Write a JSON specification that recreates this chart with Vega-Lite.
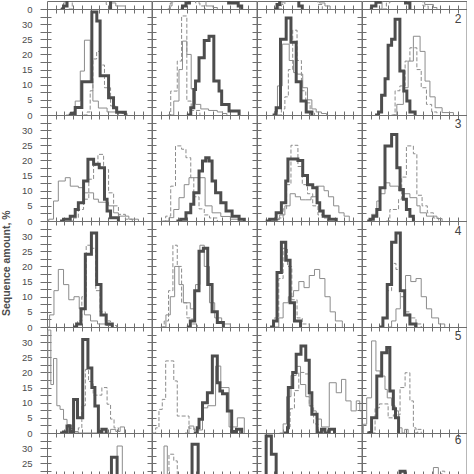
{
"$schema": "https://vega.github.io/schema/vega-lite/v6.json",
"padding": {"left": 2, "top": 0, "right": 0, "bottom": 0},
"background": "white",
"title": {"text": "Sequence amount, %", "orient": "left", "anchor": "middle", "font": "Liberation Sans", "fontSize": 10.5, "fontWeight": "bold", "color": "#4d4d4d", "offset": 8, "dx": -23},
"config": {
"view": {"stroke": "#6e6e6e", "strokeWidth": 1},
"axis": {"domain": false, "grid": false, "tickColor": "#6e6e6e", "tickWidth": 1, "labelFont": "Liberation Sans", "labelFontSize": 9.5, "labelColor": "#4d4d4d", "labelOverlap": false, "labelFlush": false, "labelBound": false, "offset": -4},
"axisX": {"tickSize": 8, "labels": false},
"axisY": {"tickSize": 9, "labels": false},
"line": {"interpolate": "step-after"}
},
"datasets": {"h": [
{"r":1,"c":1,"s":"k","x":1.6,"y":0},{"r":1,"c":1,"s":"k","x":1.9,"y":1},{"r":1,"c":1,"s":"k","x":2.3,"y":10},{"r":1,"c":1,"s":"k","x":7.3,"y":0},
{"r":1,"c":1,"s":"t","x":1.5,"y":0},{"r":1,"c":1,"s":"t","x":1.9,"y":2},{"r":1,"c":1,"s":"t","x":2.3,"y":10},{"r":1,"c":1,"s":"t","x":6.0,"y":4},{"r":1,"c":1,"s":"t","x":7.2,"y":2},{"r":1,"c":1,"s":"t","x":7.9,"y":1},{"r":1,"c":1,"s":"t","x":9.0,"y":0},
{"r":1,"c":1,"s":"d","x":2.5,"y":0},{"r":1,"c":1,"s":"d","x":2.9,"y":3},{"r":1,"c":1,"s":"d","x":6.8,"y":1.5},{"r":1,"c":1,"s":"d","x":7.4,"y":0},
{"r":1,"c":2,"s":"k","x":3.3,"y":0},{"r":1,"c":2,"s":"k","x":3.5,"y":1},{"r":1,"c":2,"s":"k","x":3.9,"y":2},{"r":1,"c":2,"s":"k","x":4.3,"y":5},{"r":1,"c":2,"s":"k","x":8.8,"y":2},{"r":1,"c":2,"s":"k","x":9.9,"y":1},{"r":1,"c":2,"s":"k","x":10.3,"y":0},
{"r":1,"c":2,"s":"t","x":1.8,"y":0},{"r":1,"c":2,"s":"t","x":2.0,"y":1},{"r":1,"c":2,"s":"t","x":2.3,"y":5},{"r":1,"c":2,"s":"t","x":6.2,"y":1},{"r":1,"c":2,"s":"t","x":7.0,"y":0.5},{"r":1,"c":2,"s":"t","x":7.5,"y":0},
{"r":1,"c":2,"s":"d","x":1.9,"y":0},{"r":1,"c":2,"s":"d","x":2.1,"y":2},{"r":1,"c":2,"s":"d","x":2.5,"y":5},{"r":1,"c":2,"s":"d","x":5.0,"y":2},{"r":1,"c":2,"s":"d","x":5.5,"y":1},{"r":1,"c":2,"s":"d","x":6.1,"y":0},
{"r":1,"c":3,"s":"k","x":2.0,"y":0},{"r":1,"c":3,"s":"k","x":2.3,"y":1.5},{"r":1,"c":3,"s":"k","x":2.6,"y":8},{"r":1,"c":3,"s":"k","x":4.8,"y":1},{"r":1,"c":3,"s":"k","x":5.2,"y":0},
{"r":1,"c":3,"s":"t","x":2.2,"y":0},{"r":1,"c":3,"s":"t","x":2.5,"y":2},{"r":1,"c":3,"s":"t","x":3.0,"y":5},{"r":1,"c":3,"s":"t","x":7.2,"y":2},{"r":1,"c":3,"s":"t","x":7.8,"y":1},{"r":1,"c":3,"s":"t","x":8.4,"y":0},
{"r":1,"c":3,"s":"d","x":2.4,"y":0},{"r":1,"c":3,"s":"d","x":2.8,"y":1.5},{"r":1,"c":3,"s":"d","x":3.2,"y":5},{"r":1,"c":3,"s":"d","x":7.0,"y":1.5},{"r":1,"c":3,"s":"d","x":7.5,"y":0},
{"r":1,"c":4,"s":"k","x":0.9,"y":0},{"r":1,"c":4,"s":"k","x":1.1,"y":1},{"r":1,"c":4,"s":"k","x":1.6,"y":2.2},{"r":1,"c":4,"s":"k","x":2.1,"y":8},{"r":1,"c":4,"s":"k","x":5.0,"y":2},{"r":1,"c":4,"s":"k","x":5.5,"y":0},
{"r":1,"c":4,"s":"t","x":2.0,"y":0},{"r":1,"c":4,"s":"t","x":2.3,"y":3},{"r":1,"c":4,"s":"t","x":7.2,"y":1.5},{"r":1,"c":4,"s":"t","x":8.2,"y":0.5},{"r":1,"c":4,"s":"t","x":8.6,"y":0},
{"r":1,"c":4,"s":"d","x":2.4,"y":0},{"r":1,"c":4,"s":"d","x":2.8,"y":2},{"r":1,"c":4,"s":"d","x":3.2,"y":6},{"r":1,"c":4,"s":"d","x":7.0,"y":1},{"r":1,"c":4,"s":"d","x":7.6,"y":0},
{"r":2,"c":1,"s":"k","x":2.5,"y":0},{"r":2,"c":1,"s":"k","x":2.8,"y":0.5},{"r":2,"c":1,"s":"k","x":3.24,"y":2.5},{"r":2,"c":1,"s":"k","x":4.0,"y":11},{"r":2,"c":1,"s":"k","x":5.15,"y":34},{"r":2,"c":1,"s":"k","x":5.72,"y":31},{"r":2,"c":1,"s":"k","x":6.1,"y":13},{"r":2,"c":1,"s":"k","x":7.07,"y":5.7},{"r":2,"c":1,"s":"k","x":7.64,"y":2.4},{"r":2,"c":1,"s":"k","x":8.0,"y":0.9},{"r":2,"c":1,"s":"k","x":9.0,"y":0},
{"r":2,"c":1,"s":"t","x":2.2,"y":0},{"r":2,"c":1,"s":"t","x":2.67,"y":1},{"r":2,"c":1,"s":"t","x":3.24,"y":4.6},{"r":2,"c":1,"s":"t","x":3.82,"y":14.5},{"r":2,"c":1,"s":"t","x":4.3,"y":24.7},{"r":2,"c":1,"s":"t","x":4.96,"y":11},{"r":2,"c":1,"s":"t","x":5.27,"y":4.6},{"r":2,"c":1,"s":"t","x":5.9,"y":2.3},{"r":2,"c":1,"s":"t","x":6.9,"y":1},{"r":2,"c":1,"s":"t","x":8.2,"y":0},
{"r":2,"c":1,"s":"d","x":4.2,"y":0},{"r":2,"c":1,"s":"d","x":4.6,"y":1},{"r":2,"c":1,"s":"d","x":4.96,"y":8},{"r":2,"c":1,"s":"d","x":5.27,"y":18.5},{"r":2,"c":1,"s":"d","x":5.7,"y":21},{"r":2,"c":1,"s":"d","x":6.1,"y":16.5},{"r":2,"c":1,"s":"d","x":6.6,"y":9},{"r":2,"c":1,"s":"d","x":7.3,"y":3},{"r":2,"c":1,"s":"d","x":7.9,"y":1},{"r":2,"c":1,"s":"d","x":8.6,"y":0.5},{"r":2,"c":1,"s":"d","x":9.2,"y":0},
{"r":2,"c":2,"s":"d","x":1.8,"y":0},{"r":2,"c":2,"s":"d","x":2.15,"y":7.9},{"r":2,"c":2,"s":"d","x":2.9,"y":17.8},{"r":2,"c":2,"s":"d","x":3.4,"y":32.7},{"r":2,"c":2,"s":"d","x":4.0,"y":4.6},{"r":2,"c":2,"s":"d","x":4.5,"y":1.5},{"r":2,"c":2,"s":"d","x":5.5,"y":0},
{"r":2,"c":2,"s":"t","x":2.0,"y":0},{"r":2,"c":2,"s":"t","x":2.5,"y":4.6},{"r":2,"c":2,"s":"t","x":3.1,"y":15},{"r":2,"c":2,"s":"t","x":3.5,"y":24.4},{"r":2,"c":2,"s":"t","x":4.0,"y":20},{"r":2,"c":2,"s":"t","x":4.5,"y":8.6},{"r":2,"c":2,"s":"t","x":5.0,"y":3.5},{"r":2,"c":2,"s":"t","x":5.6,"y":2},{"r":2,"c":2,"s":"t","x":6.5,"y":1.5},{"r":2,"c":2,"s":"t","x":7.5,"y":1},{"r":2,"c":2,"s":"t","x":8.1,"y":0.5},{"r":2,"c":2,"s":"t","x":8.6,"y":0},
{"r":2,"c":2,"s":"k","x":4.0,"y":0},{"r":2,"c":2,"s":"k","x":4.45,"y":2.4},{"r":2,"c":2,"s":"k","x":4.8,"y":8.4},{"r":2,"c":2,"s":"k","x":5.0,"y":11.2},{"r":2,"c":2,"s":"k","x":5.4,"y":18.9},{"r":2,"c":2,"s":"k","x":6.0,"y":24.6},{"r":2,"c":2,"s":"k","x":6.55,"y":26},{"r":2,"c":2,"s":"k","x":7.1,"y":11.2},{"r":2,"c":2,"s":"k","x":7.7,"y":7.9},{"r":2,"c":2,"s":"k","x":8.0,"y":3.5},{"r":2,"c":2,"s":"k","x":8.85,"y":1.3},{"r":2,"c":2,"s":"k","x":10.0,"y":0},
{"r":2,"c":3,"s":"k","x":1.8,"y":0},{"r":2,"c":3,"s":"k","x":2.2,"y":2.4},{"r":2,"c":3,"s":"k","x":2.7,"y":25},{"r":2,"c":3,"s":"k","x":3.35,"y":32},{"r":2,"c":3,"s":"k","x":3.9,"y":24},{"r":2,"c":3,"s":"k","x":4.5,"y":11},{"r":2,"c":3,"s":"k","x":5.05,"y":4.6},{"r":2,"c":3,"s":"k","x":5.65,"y":1},{"r":2,"c":3,"s":"k","x":6.3,"y":0},
{"r":2,"c":3,"s":"d","x":2.4,"y":0},{"r":2,"c":3,"s":"d","x":2.8,"y":2},{"r":2,"c":3,"s":"d","x":3.2,"y":6},{"r":2,"c":3,"s":"d","x":3.6,"y":15},{"r":2,"c":3,"s":"d","x":4.1,"y":28},{"r":2,"c":3,"s":"d","x":4.6,"y":18},{"r":2,"c":3,"s":"d","x":5.1,"y":8},{"r":2,"c":3,"s":"d","x":5.6,"y":4},{"r":2,"c":3,"s":"d","x":6.1,"y":1},{"r":2,"c":3,"s":"d","x":6.6,"y":0},
{"r":2,"c":3,"s":"t","x":1.8,"y":0},{"r":2,"c":3,"s":"t","x":2.0,"y":1},{"r":2,"c":3,"s":"t","x":2.35,"y":9.6},{"r":2,"c":3,"s":"t","x":2.9,"y":23.4},{"r":2,"c":3,"s":"t","x":3.7,"y":18},{"r":2,"c":3,"s":"t","x":4.2,"y":14},{"r":2,"c":3,"s":"t","x":4.6,"y":13.5},{"r":2,"c":3,"s":"t","x":5.25,"y":9},{"r":2,"c":3,"s":"t","x":5.8,"y":5},{"r":2,"c":3,"s":"t","x":6.3,"y":2},{"r":2,"c":3,"s":"t","x":6.8,"y":1},{"r":2,"c":3,"s":"t","x":7.4,"y":0.5},{"r":2,"c":3,"s":"t","x":8.0,"y":0},
{"r":2,"c":4,"s":"k","x":1.5,"y":0},{"r":2,"c":4,"s":"k","x":1.9,"y":1},{"r":2,"c":4,"s":"k","x":2.25,"y":6.5},{"r":2,"c":4,"s":"k","x":2.65,"y":12},{"r":2,"c":4,"s":"k","x":3.0,"y":23},{"r":2,"c":4,"s":"k","x":3.4,"y":25},{"r":2,"c":4,"s":"k","x":3.8,"y":31.6},{"r":2,"c":4,"s":"k","x":4.35,"y":14.5},{"r":2,"c":4,"s":"k","x":4.8,"y":7.9},{"r":2,"c":4,"s":"k","x":5.15,"y":4.6},{"r":2,"c":4,"s":"k","x":5.5,"y":1},{"r":2,"c":4,"s":"k","x":6.1,"y":0},
{"r":2,"c":4,"s":"d","x":3.4,"y":0},{"r":2,"c":4,"s":"d","x":3.8,"y":8},{"r":2,"c":4,"s":"d","x":4.35,"y":9.6},{"r":2,"c":4,"s":"d","x":4.95,"y":17.8},{"r":2,"c":4,"s":"d","x":5.5,"y":22.2},{"r":2,"c":4,"s":"d","x":6.3,"y":15},{"r":2,"c":4,"s":"d","x":6.8,"y":9},{"r":2,"c":4,"s":"d","x":7.4,"y":3.5},{"r":2,"c":4,"s":"d","x":8.0,"y":1},{"r":2,"c":4,"s":"d","x":8.6,"y":0},
{"r":2,"c":4,"s":"t","x":3.6,"y":0},{"r":2,"c":4,"s":"t","x":4.0,"y":3.5},{"r":2,"c":4,"s":"t","x":4.75,"y":9},{"r":2,"c":4,"s":"t","x":5.3,"y":17.8},{"r":2,"c":4,"s":"t","x":5.9,"y":26},{"r":2,"c":4,"s":"t","x":6.67,"y":21},{"r":2,"c":4,"s":"t","x":7.24,"y":11.2},{"r":2,"c":4,"s":"t","x":7.8,"y":6},{"r":2,"c":4,"s":"t","x":8.4,"y":2.4},{"r":2,"c":4,"s":"t","x":9.2,"y":0.8},{"r":2,"c":4,"s":"t","x":10.5,"y":0},
{"r":3,"c":1,"s":"t","x":0,"y":0},{"r":3,"c":1,"s":"t","x":0.2,"y":0.6},{"r":3,"c":1,"s":"t","x":0.75,"y":6.6},{"r":3,"c":1,"s":"t","x":1.3,"y":13.2},{"r":3,"c":1,"s":"t","x":2.1,"y":14.3},{"r":3,"c":1,"s":"t","x":2.67,"y":11.5},{"r":3,"c":1,"s":"t","x":3.6,"y":11},{"r":3,"c":1,"s":"t","x":4.2,"y":9.3},{"r":3,"c":1,"s":"t","x":5.35,"y":7.2},{"r":3,"c":1,"s":"t","x":5.9,"y":6.2},{"r":3,"c":1,"s":"t","x":7.07,"y":5},{"r":3,"c":1,"s":"t","x":7.65,"y":2.7},{"r":3,"c":1,"s":"t","x":8.2,"y":1.6},{"r":3,"c":1,"s":"t","x":9.4,"y":0.6},{"r":3,"c":1,"s":"t","x":10.5,"y":0},
{"r":3,"c":1,"s":"k","x":1.5,"y":0},{"r":3,"c":1,"s":"k","x":1.9,"y":0.6},{"r":3,"c":1,"s":"k","x":2.67,"y":1.6},{"r":3,"c":1,"s":"k","x":3.24,"y":3.8},{"r":3,"c":1,"s":"k","x":3.6,"y":6},{"r":3,"c":1,"s":"k","x":4.2,"y":13.2},{"r":3,"c":1,"s":"k","x":4.7,"y":20.4},{"r":3,"c":1,"s":"k","x":5.35,"y":18.7},{"r":3,"c":1,"s":"k","x":6.0,"y":17.6},{"r":3,"c":1,"s":"k","x":6.6,"y":7.2},{"r":3,"c":1,"s":"k","x":6.9,"y":3.3},{"r":3,"c":1,"s":"k","x":7.3,"y":1.1},{"r":3,"c":1,"s":"k","x":8.2,"y":0},
{"r":3,"c":1,"s":"d","x":2.6,"y":0},{"r":3,"c":1,"s":"d","x":3.05,"y":1},{"r":3,"c":1,"s":"d","x":3.6,"y":3.8},{"r":3,"c":1,"s":"d","x":4.2,"y":7.2},{"r":3,"c":1,"s":"d","x":4.8,"y":13.8},{"r":3,"c":1,"s":"d","x":5.35,"y":18.3},{"r":3,"c":1,"s":"d","x":5.85,"y":22},{"r":3,"c":1,"s":"d","x":6.5,"y":17},{"r":3,"c":1,"s":"d","x":7.07,"y":9.3},{"r":3,"c":1,"s":"d","x":7.65,"y":5},{"r":3,"c":1,"s":"d","x":8.2,"y":2.2},{"r":3,"c":1,"s":"d","x":9.0,"y":0.6},{"r":3,"c":1,"s":"d","x":9.8,"y":0},
{"r":3,"c":2,"s":"d","x":1.2,"y":0},{"r":3,"c":2,"s":"d","x":1.57,"y":1.6},{"r":3,"c":2,"s":"d","x":2.15,"y":11.5},{"r":3,"c":2,"s":"d","x":2.7,"y":24.8},{"r":3,"c":2,"s":"d","x":3.4,"y":23.7},{"r":3,"c":2,"s":"d","x":3.9,"y":20.9},{"r":3,"c":2,"s":"d","x":4.45,"y":14.3},{"r":3,"c":2,"s":"d","x":4.8,"y":8},{"r":3,"c":2,"s":"d","x":5.4,"y":4},{"r":3,"c":2,"s":"d","x":6.0,"y":2},{"r":3,"c":2,"s":"d","x":6.6,"y":1},{"r":3,"c":2,"s":"d","x":7.5,"y":0},
{"r":3,"c":2,"s":"t","x":1.6,"y":0},{"r":3,"c":2,"s":"t","x":1.95,"y":1.1},{"r":3,"c":2,"s":"t","x":2.5,"y":3.8},{"r":3,"c":2,"s":"t","x":3.1,"y":7.7},{"r":3,"c":2,"s":"t","x":3.7,"y":12},{"r":3,"c":2,"s":"t","x":4.25,"y":14.3},{"r":3,"c":2,"s":"t","x":6.1,"y":5},{"r":3,"c":2,"s":"t","x":6.9,"y":2.7},{"r":3,"c":2,"s":"t","x":7.9,"y":1.5},{"r":3,"c":2,"s":"t","x":9.0,"y":0.6},{"r":3,"c":2,"s":"t","x":10.0,"y":0},
{"r":3,"c":2,"s":"k","x":2.8,"y":0},{"r":3,"c":2,"s":"k","x":3.3,"y":0.6},{"r":3,"c":2,"s":"k","x":3.9,"y":2.7},{"r":3,"c":2,"s":"k","x":4.45,"y":5.5},{"r":3,"c":2,"s":"k","x":4.8,"y":9.3},{"r":3,"c":2,"s":"k","x":5.4,"y":16.5},{"r":3,"c":2,"s":"k","x":5.8,"y":19.8},{"r":3,"c":2,"s":"k","x":6.17,"y":20.9},{"r":3,"c":2,"s":"k","x":6.55,"y":19.8},{"r":3,"c":2,"s":"k","x":6.9,"y":13.2},{"r":3,"c":2,"s":"k","x":7.3,"y":9.3},{"r":3,"c":2,"s":"k","x":7.9,"y":6},{"r":3,"c":2,"s":"k","x":8.5,"y":3.3},{"r":3,"c":2,"s":"k","x":9.2,"y":1.6},{"r":3,"c":2,"s":"k","x":10.0,"y":0.6},{"r":3,"c":2,"s":"k","x":10.6,"y":0},
{"r":3,"c":3,"s":"k","x":1.0,"y":0},{"r":3,"c":3,"s":"k","x":1.45,"y":0.6},{"r":3,"c":3,"s":"k","x":2.2,"y":2.7},{"r":3,"c":3,"s":"k","x":2.8,"y":6},{"r":3,"c":3,"s":"k","x":3.3,"y":13.2},{"r":3,"c":3,"s":"k","x":3.55,"y":20.5},{"r":3,"c":3,"s":"k","x":4.7,"y":20},{"r":3,"c":3,"s":"k","x":5.25,"y":15},{"r":3,"c":3,"s":"k","x":5.8,"y":12},{"r":3,"c":3,"s":"k","x":6.4,"y":11},{"r":3,"c":3,"s":"k","x":6.9,"y":6},{"r":3,"c":3,"s":"k","x":7.2,"y":3.3},{"r":3,"c":3,"s":"k","x":7.6,"y":1.6},{"r":3,"c":3,"s":"k","x":8.3,"y":0.6},{"r":3,"c":3,"s":"k","x":9.1,"y":0},
{"r":3,"c":3,"s":"d","x":2.0,"y":0},{"r":3,"c":3,"s":"d","x":2.5,"y":1},{"r":3,"c":3,"s":"d","x":3.0,"y":4},{"r":3,"c":3,"s":"d","x":3.4,"y":12},{"r":3,"c":3,"s":"d","x":3.9,"y":25},{"r":3,"c":3,"s":"d","x":4.7,"y":18},{"r":3,"c":3,"s":"d","x":5.2,"y":12},{"r":3,"c":3,"s":"d","x":5.8,"y":9},{"r":3,"c":3,"s":"d","x":6.4,"y":5},{"r":3,"c":3,"s":"d","x":7.0,"y":2},{"r":3,"c":3,"s":"d","x":7.6,"y":1},{"r":3,"c":3,"s":"d","x":8.2,"y":0},
{"r":3,"c":3,"s":"t","x":1.5,"y":0},{"r":3,"c":3,"s":"t","x":2.0,"y":0.5},{"r":3,"c":3,"s":"t","x":2.6,"y":2},{"r":3,"c":3,"s":"t","x":3.2,"y":5},{"r":3,"c":3,"s":"t","x":3.8,"y":9},{"r":3,"c":3,"s":"t","x":4.4,"y":8},{"r":3,"c":3,"s":"t","x":5.0,"y":7},{"r":3,"c":3,"s":"t","x":5.6,"y":7},{"r":3,"c":3,"s":"t","x":6.2,"y":8},{"r":3,"c":3,"s":"t","x":6.8,"y":11.5},{"r":3,"c":3,"s":"t","x":7.7,"y":10},{"r":3,"c":3,"s":"t","x":8.2,"y":8},{"r":3,"c":3,"s":"t","x":8.8,"y":5},{"r":3,"c":3,"s":"t","x":9.4,"y":2.7},{"r":3,"c":3,"s":"t","x":10.0,"y":1.6},{"r":3,"c":3,"s":"t","x":10.6,"y":0},
{"r":3,"c":4,"s":"k","x":0.6,"y":0},{"r":3,"c":4,"s":"k","x":0.92,"y":0.6},{"r":3,"c":4,"s":"k","x":1.3,"y":1.6},{"r":3,"c":4,"s":"k","x":1.7,"y":3.8},{"r":3,"c":4,"s":"k","x":2.07,"y":11},{"r":3,"c":4,"s":"k","x":2.64,"y":24.8},{"r":3,"c":4,"s":"k","x":3.4,"y":28.6},{"r":3,"c":4,"s":"k","x":4.0,"y":17.6},{"r":3,"c":4,"s":"k","x":4.37,"y":10.4},{"r":3,"c":4,"s":"k","x":4.75,"y":7.2},{"r":3,"c":4,"s":"k","x":5.1,"y":3.8},{"r":3,"c":4,"s":"k","x":5.5,"y":1.6},{"r":3,"c":4,"s":"k","x":5.9,"y":0},
{"r":3,"c":4,"s":"t","x":0.8,"y":0},{"r":3,"c":4,"s":"t","x":1.1,"y":2.2},{"r":3,"c":4,"s":"t","x":1.7,"y":6.6},{"r":3,"c":4,"s":"t","x":2.07,"y":9},{"r":3,"c":4,"s":"t","x":2.64,"y":12.6},{"r":3,"c":4,"s":"t","x":3.2,"y":11.5},{"r":3,"c":4,"s":"t","x":4.2,"y":9.9},{"r":3,"c":4,"s":"t","x":4.75,"y":9},{"r":3,"c":4,"s":"t","x":5.5,"y":7.7},{"r":3,"c":4,"s":"t","x":6.3,"y":5},{"r":3,"c":4,"s":"t","x":6.67,"y":2.7},{"r":3,"c":4,"s":"t","x":7.4,"y":1.6},{"r":3,"c":4,"s":"t","x":8.6,"y":0.8},{"r":3,"c":4,"s":"t","x":9.2,"y":0},
{"r":3,"c":4,"s":"d","x":2.8,"y":0},{"r":3,"c":4,"s":"d","x":3.2,"y":3.8},{"r":3,"c":4,"s":"d","x":4.2,"y":7.2},{"r":3,"c":4,"s":"d","x":4.56,"y":14.5},{"r":3,"c":4,"s":"d","x":5.1,"y":24.8},{"r":3,"c":4,"s":"d","x":5.9,"y":22.2},{"r":3,"c":4,"s":"d","x":6.3,"y":8.5},{"r":3,"c":4,"s":"d","x":6.9,"y":5},{"r":3,"c":4,"s":"d","x":7.5,"y":2.7},{"r":3,"c":4,"s":"d","x":8.2,"y":1},{"r":3,"c":4,"s":"d","x":8.8,"y":0},
{"r":4,"c":1,"s":"t","x":0,"y":0},{"r":4,"c":1,"s":"t","x":0.3,"y":4},{"r":4,"c":1,"s":"t","x":0.8,"y":12},{"r":4,"c":1,"s":"t","x":1.3,"y":19},{"r":4,"c":1,"s":"t","x":1.9,"y":14},{"r":4,"c":1,"s":"t","x":2.5,"y":9},{"r":4,"c":1,"s":"t","x":3.1,"y":10},{"r":4,"c":1,"s":"t","x":3.7,"y":6},{"r":4,"c":1,"s":"t","x":4.3,"y":4},{"r":4,"c":1,"s":"t","x":5.0,"y":2},{"r":4,"c":1,"s":"t","x":5.8,"y":1},{"r":4,"c":1,"s":"t","x":6.8,"y":0.5},{"r":4,"c":1,"s":"t","x":7.5,"y":0},
{"r":4,"c":1,"s":"k","x":3.0,"y":0},{"r":4,"c":1,"s":"k","x":3.4,"y":1},{"r":4,"c":1,"s":"k","x":3.9,"y":6},{"r":4,"c":1,"s":"k","x":4.4,"y":24},{"r":4,"c":1,"s":"k","x":5.1,"y":31},{"r":4,"c":1,"s":"k","x":5.7,"y":14},{"r":4,"c":1,"s":"k","x":6.2,"y":4},{"r":4,"c":1,"s":"k","x":6.8,"y":1},{"r":4,"c":1,"s":"k","x":7.5,"y":0},
{"r":4,"c":1,"s":"d","x":3.0,"y":0},{"r":4,"c":1,"s":"d","x":3.5,"y":2},{"r":4,"c":1,"s":"d","x":4.0,"y":10},{"r":4,"c":1,"s":"d","x":4.5,"y":27},{"r":4,"c":1,"s":"d","x":5.0,"y":26},{"r":4,"c":1,"s":"d","x":5.6,"y":12},{"r":4,"c":1,"s":"d","x":6.1,"y":5},{"r":4,"c":1,"s":"d","x":6.7,"y":2},{"r":4,"c":1,"s":"d","x":7.3,"y":0.5},{"r":4,"c":1,"s":"d","x":8.0,"y":0},
{"r":4,"c":2,"s":"d","x":1.0,"y":0},{"r":4,"c":2,"s":"d","x":1.4,"y":2},{"r":4,"c":2,"s":"d","x":1.9,"y":12},{"r":4,"c":2,"s":"d","x":2.4,"y":27},{"r":4,"c":2,"s":"d","x":2.9,"y":20},{"r":4,"c":2,"s":"d","x":3.4,"y":8},{"r":4,"c":2,"s":"d","x":4.0,"y":3},{"r":4,"c":2,"s":"d","x":4.6,"y":1},{"r":4,"c":2,"s":"d","x":5.2,"y":0},
{"r":4,"c":2,"s":"t","x":1.2,"y":0},{"r":4,"c":2,"s":"t","x":1.6,"y":4},{"r":4,"c":2,"s":"t","x":2.1,"y":10},{"r":4,"c":2,"s":"t","x":2.6,"y":20},{"r":4,"c":2,"s":"t","x":3.1,"y":14},{"r":4,"c":2,"s":"t","x":3.6,"y":8},{"r":4,"c":2,"s":"t","x":4.4,"y":6},{"r":4,"c":2,"s":"t","x":5.0,"y":14},{"r":4,"c":2,"s":"t","x":5.5,"y":27},{"r":4,"c":2,"s":"t","x":6.0,"y":20},{"r":4,"c":2,"s":"t","x":6.6,"y":8},{"r":4,"c":2,"s":"t","x":7.2,"y":3},{"r":4,"c":2,"s":"t","x":8.0,"y":1},{"r":4,"c":2,"s":"t","x":9.0,"y":0},
{"r":4,"c":2,"s":"k","x":4.0,"y":0},{"r":4,"c":2,"s":"k","x":4.4,"y":2},{"r":4,"c":2,"s":"k","x":4.9,"y":12},{"r":4,"c":2,"s":"k","x":5.4,"y":25},{"r":4,"c":2,"s":"k","x":5.9,"y":26},{"r":4,"c":2,"s":"k","x":6.4,"y":14},{"r":4,"c":2,"s":"k","x":6.9,"y":5},{"r":4,"c":2,"s":"k","x":7.5,"y":1.5},{"r":4,"c":2,"s":"k","x":8.2,"y":0},
{"r":4,"c":3,"s":"k","x":1.5,"y":0},{"r":4,"c":3,"s":"k","x":1.9,"y":2},{"r":4,"c":3,"s":"k","x":2.3,"y":18},{"r":4,"c":3,"s":"k","x":2.8,"y":28},{"r":4,"c":3,"s":"k","x":3.3,"y":22},{"r":4,"c":3,"s":"k","x":3.8,"y":8},{"r":4,"c":3,"s":"k","x":4.3,"y":2},{"r":4,"c":3,"s":"k","x":5.0,"y":0},
{"r":4,"c":3,"s":"d","x":1.6,"y":0},{"r":4,"c":3,"s":"d","x":2.0,"y":3},{"r":4,"c":3,"s":"d","x":2.5,"y":16},{"r":4,"c":3,"s":"d","x":3.0,"y":26},{"r":4,"c":3,"s":"d","x":3.5,"y":20},{"r":4,"c":3,"s":"d","x":4.0,"y":9},{"r":4,"c":3,"s":"d","x":4.6,"y":3},{"r":4,"c":3,"s":"d","x":5.2,"y":1},{"r":4,"c":3,"s":"d","x":6.0,"y":0},
{"r":4,"c":3,"s":"t","x":2.0,"y":0},{"r":4,"c":3,"s":"t","x":2.5,"y":3},{"r":4,"c":3,"s":"t","x":3.0,"y":8},{"r":4,"c":3,"s":"t","x":3.6,"y":10},{"r":4,"c":3,"s":"t","x":4.2,"y":12},{"r":4,"c":3,"s":"t","x":4.8,"y":15},{"r":4,"c":3,"s":"t","x":5.4,"y":13},{"r":4,"c":3,"s":"t","x":6.0,"y":17},{"r":4,"c":3,"s":"t","x":6.6,"y":19},{"r":4,"c":3,"s":"t","x":7.2,"y":16},{"r":4,"c":3,"s":"t","x":7.8,"y":10},{"r":4,"c":3,"s":"t","x":8.4,"y":5},{"r":4,"c":3,"s":"t","x":9.0,"y":2},{"r":4,"c":3,"s":"t","x":9.8,"y":0},
{"r":4,"c":4,"s":"k","x":2.0,"y":0},{"r":4,"c":4,"s":"k","x":2.4,"y":3},{"r":4,"c":4,"s":"k","x":2.9,"y":14},{"r":4,"c":4,"s":"k","x":3.4,"y":28},{"r":4,"c":4,"s":"k","x":3.9,"y":31},{"r":4,"c":4,"s":"k","x":4.4,"y":12},{"r":4,"c":4,"s":"k","x":4.9,"y":4},{"r":4,"c":4,"s":"k","x":5.5,"y":1},{"r":4,"c":4,"s":"k","x":6.2,"y":0},
{"r":4,"c":4,"s":"d","x":2.0,"y":0},{"r":4,"c":4,"s":"d","x":2.4,"y":3},{"r":4,"c":4,"s":"d","x":2.9,"y":12},{"r":4,"c":4,"s":"d","x":3.4,"y":21},{"r":4,"c":4,"s":"d","x":3.9,"y":19},{"r":4,"c":4,"s":"d","x":4.4,"y":10},{"r":4,"c":4,"s":"d","x":4.9,"y":5},{"r":4,"c":4,"s":"d","x":5.5,"y":3},{"r":4,"c":4,"s":"d","x":6.2,"y":1},{"r":4,"c":4,"s":"d","x":6.8,"y":0},
{"r":4,"c":4,"s":"t","x":3.0,"y":0},{"r":4,"c":4,"s":"t","x":3.4,"y":2},{"r":4,"c":4,"s":"t","x":3.9,"y":6},{"r":4,"c":4,"s":"t","x":4.4,"y":10},{"r":4,"c":4,"s":"t","x":5.0,"y":17},{"r":4,"c":4,"s":"t","x":5.6,"y":15},{"r":4,"c":4,"s":"t","x":6.2,"y":16},{"r":4,"c":4,"s":"t","x":6.8,"y":10},{"r":4,"c":4,"s":"t","x":7.4,"y":6},{"r":4,"c":4,"s":"t","x":8.0,"y":3},{"r":4,"c":4,"s":"t","x":8.8,"y":1},{"r":4,"c":4,"s":"t","x":9.5,"y":0},
{"r":5,"c":1,"s":"t","x":0,"y":0},{"r":5,"c":1,"s":"t","x":0.1,"y":34},{"r":5,"c":1,"s":"t","x":0.44,"y":16},{"r":5,"c":1,"s":"t","x":0.75,"y":24.6},{"r":5,"c":1,"s":"t","x":1.13,"y":9},{"r":5,"c":1,"s":"t","x":1.5,"y":7.8},{"r":5,"c":1,"s":"t","x":1.9,"y":4.5},{"r":5,"c":1,"s":"t","x":2.3,"y":2.8},{"r":5,"c":1,"s":"t","x":2.7,"y":1.5},{"r":5,"c":1,"s":"t","x":3.1,"y":0.5},{"r":5,"c":1,"s":"t","x":3.6,"y":0},{"r":5,"c":1,"s":"t","x":7.3,"y":1.2},{"r":5,"c":1,"s":"t","x":7.9,"y":0.5},{"r":5,"c":1,"s":"t","x":8.4,"y":2},{"r":5,"c":1,"s":"t","x":8.9,"y":0},
{"r":5,"c":1,"s":"k","x":1.5,"y":0},{"r":5,"c":1,"s":"k","x":1.9,"y":0.3},{"r":5,"c":1,"s":"k","x":2.3,"y":2.3},{"r":5,"c":1,"s":"k","x":2.67,"y":0.5},{"r":5,"c":1,"s":"k","x":3.05,"y":11.1},{"r":5,"c":1,"s":"k","x":3.5,"y":5},{"r":5,"c":1,"s":"k","x":4.1,"y":30.9},{"r":5,"c":1,"s":"k","x":4.7,"y":21.5},{"r":5,"c":1,"s":"k","x":5.15,"y":15},{"r":5,"c":1,"s":"k","x":5.5,"y":8.9},{"r":5,"c":1,"s":"k","x":5.9,"y":0.5},{"r":5,"c":1,"s":"k","x":6.3,"y":1.2},{"r":5,"c":1,"s":"k","x":6.8,"y":0},
{"r":5,"c":1,"s":"d","x":3.2,"y":0},{"r":5,"c":1,"s":"d","x":3.6,"y":1.7},{"r":5,"c":1,"s":"d","x":4.0,"y":9},{"r":5,"c":1,"s":"d","x":4.4,"y":21},{"r":5,"c":1,"s":"d","x":4.77,"y":17},{"r":5,"c":1,"s":"d","x":5.3,"y":12.5},{"r":5,"c":1,"s":"d","x":6.3,"y":15},{"r":5,"c":1,"s":"d","x":6.9,"y":9.5},{"r":5,"c":1,"s":"d","x":7.3,"y":4.6},{"r":5,"c":1,"s":"d","x":7.7,"y":1.7},{"r":5,"c":1,"s":"d","x":8.2,"y":0},
{"r":5,"c":2,"s":"d","x":0.1,"y":0},{"r":5,"c":2,"s":"d","x":0.42,"y":1.7},{"r":5,"c":2,"s":"d","x":0.8,"y":7.8},{"r":5,"c":2,"s":"d","x":1.18,"y":11.1},{"r":5,"c":2,"s":"d","x":1.57,"y":23.8},{"r":5,"c":2,"s":"d","x":2.5,"y":17.2},{"r":5,"c":2,"s":"d","x":2.9,"y":5.6},{"r":5,"c":2,"s":"d","x":4.25,"y":1.6},{"r":5,"c":2,"s":"d","x":4.9,"y":0},
{"r":5,"c":2,"s":"t","x":3.8,"y":0},{"r":5,"c":2,"s":"t","x":4.25,"y":2.3},{"r":5,"c":2,"s":"t","x":4.8,"y":1},{"r":5,"c":2,"s":"t","x":5.8,"y":8.3},{"r":5,"c":2,"s":"t","x":6.4,"y":9},{"r":5,"c":2,"s":"t","x":7.3,"y":22.1},{"r":5,"c":2,"s":"t","x":7.9,"y":15},{"r":5,"c":2,"s":"t","x":8.85,"y":2},{"r":5,"c":2,"s":"t","x":9.8,"y":5},{"r":5,"c":2,"s":"t","x":10.6,"y":0},
{"r":5,"c":2,"s":"k","x":4.8,"y":0},{"r":5,"c":2,"s":"k","x":5.2,"y":1.7},{"r":5,"c":2,"s":"k","x":5.4,"y":4.5},{"r":5,"c":2,"s":"k","x":5.8,"y":10},{"r":5,"c":2,"s":"k","x":6.36,"y":13.3},{"r":5,"c":2,"s":"k","x":6.93,"y":25.4},{"r":5,"c":2,"s":"k","x":7.5,"y":16.6},{"r":5,"c":2,"s":"k","x":7.8,"y":13.9},{"r":5,"c":2,"s":"k","x":8.1,"y":13},{"r":5,"c":2,"s":"k","x":8.65,"y":7.3},{"r":5,"c":2,"s":"k","x":9.15,"y":0.5},{"r":5,"c":2,"s":"k","x":9.7,"y":1.2},{"r":5,"c":2,"s":"k","x":10.3,"y":0},
{"r":5,"c":3,"s":"k","x":3.1,"y":0},{"r":5,"c":3,"s":"k","x":3.5,"y":1.7},{"r":5,"c":3,"s":"k","x":3.6,"y":15},{"r":5,"c":3,"s":"k","x":4.1,"y":20},{"r":5,"c":3,"s":"k","x":4.5,"y":26},{"r":5,"c":3,"s":"k","x":5.05,"y":28.7},{"r":5,"c":3,"s":"k","x":5.6,"y":24},{"r":5,"c":3,"s":"k","x":6.0,"y":13.3},{"r":5,"c":3,"s":"k","x":6.3,"y":6.2},{"r":5,"c":3,"s":"k","x":6.9,"y":0},{"r":5,"c":3,"s":"k","x":7.4,"y":1.2},{"r":5,"c":3,"s":"k","x":7.8,"y":0},{"r":5,"c":3,"s":"k","x":8.3,"y":1.2},{"r":5,"c":3,"s":"k","x":8.9,"y":0},
{"r":5,"c":3,"s":"d","x":3.0,"y":0},{"r":5,"c":3,"s":"d","x":3.4,"y":2},{"r":5,"c":3,"s":"d","x":3.8,"y":8},{"r":5,"c":3,"s":"d","x":4.3,"y":14},{"r":5,"c":3,"s":"d","x":4.8,"y":20},{"r":5,"c":3,"s":"d","x":5.4,"y":19.5},{"r":5,"c":3,"s":"d","x":6.0,"y":9},{"r":5,"c":3,"s":"d","x":6.5,"y":3},{"r":5,"c":3,"s":"d","x":7.0,"y":1},{"r":5,"c":3,"s":"d","x":7.6,"y":0},
{"r":5,"c":3,"s":"t","x":2.6,"y":0},{"r":5,"c":3,"s":"t","x":3.0,"y":3},{"r":5,"c":3,"s":"t","x":3.4,"y":12},{"r":5,"c":3,"s":"t","x":3.9,"y":19},{"r":5,"c":3,"s":"t","x":4.5,"y":22},{"r":5,"c":3,"s":"t","x":5.0,"y":16},{"r":5,"c":3,"s":"t","x":5.6,"y":12},{"r":5,"c":3,"s":"t","x":6.0,"y":8.9},{"r":5,"c":3,"s":"t","x":6.3,"y":7.3},{"r":5,"c":3,"s":"t","x":6.8,"y":4.6},{"r":5,"c":3,"s":"t","x":7.4,"y":2},{"r":5,"c":3,"s":"t","x":8.3,"y":16.6},{"r":5,"c":3,"s":"t","x":9.1,"y":13.3},{"r":5,"c":3,"s":"t","x":9.7,"y":17.7},{"r":5,"c":3,"s":"t","x":10.2,"y":10.6},{"r":5,"c":3,"s":"t","x":10.8,"y":7.3},{"r":5,"c":3,"s":"t","x":11.4,"y":10.6},{"r":5,"c":3,"s":"t","x":11.8,"y":7.3},{"r":5,"c":3,"s":"t","x":12,"y":0},
{"r":5,"c":4,"s":"t","x":0,"y":0},{"r":5,"c":4,"s":"t","x":0.15,"y":2.9},{"r":5,"c":4,"s":"t","x":0.54,"y":11.6},{"r":5,"c":4,"s":"t","x":1.1,"y":30.4},{"r":5,"c":4,"s":"t","x":1.6,"y":20.5},{"r":5,"c":4,"s":"t","x":2.07,"y":18.8},{"r":5,"c":4,"s":"t","x":2.64,"y":14.4},{"r":5,"c":4,"s":"t","x":2.9,"y":11.6},{"r":5,"c":4,"s":"t","x":3.4,"y":9},{"r":5,"c":4,"s":"t","x":3.8,"y":7.3},{"r":5,"c":4,"s":"t","x":4.2,"y":1.7},{"r":5,"c":4,"s":"t","x":4.6,"y":0},{"r":5,"c":4,"s":"t","x":4.9,"y":1.2},{"r":5,"c":4,"s":"t","x":5.3,"y":0},
{"r":5,"c":4,"s":"k","x":0.6,"y":0},{"r":5,"c":4,"s":"k","x":0.92,"y":0.2},{"r":5,"c":4,"s":"k","x":1.1,"y":5},{"r":5,"c":4,"s":"k","x":1.7,"y":18.8},{"r":5,"c":4,"s":"k","x":2.26,"y":26.5},{"r":5,"c":4,"s":"k","x":2.84,"y":28.2},{"r":5,"c":4,"s":"k","x":3.2,"y":13.9},{"r":5,"c":4,"s":"k","x":3.6,"y":8},{"r":5,"c":4,"s":"k","x":3.85,"y":5},{"r":5,"c":4,"s":"k","x":4.2,"y":0},
{"r":5,"c":4,"s":"d","x":1.1,"y":0},{"r":5,"c":4,"s":"d","x":1.5,"y":8.3},{"r":5,"c":4,"s":"d","x":2.0,"y":9.6},{"r":5,"c":4,"s":"d","x":3.0,"y":5},{"r":5,"c":4,"s":"d","x":3.6,"y":6},{"r":5,"c":4,"s":"d","x":4.37,"y":15},{"r":5,"c":4,"s":"d","x":4.95,"y":19.9},{"r":5,"c":4,"s":"d","x":5.5,"y":10.6},{"r":5,"c":4,"s":"d","x":5.9,"y":1.7},{"r":5,"c":4,"s":"d","x":6.2,"y":0},{"r":5,"c":4,"s":"d","x":6.4,"y":1.2},{"r":5,"c":4,"s":"d","x":6.8,"y":0},
{"r":6,"c":1,"s":"k","x":6.9,"y":0},{"r":6,"c":1,"s":"k","x":7.4,"y":27},{"r":6,"c":1,"s":"k","x":8.05,"y":10},{"r":6,"c":1,"s":"k","x":8.6,"y":0},
{"r":6,"c":1,"s":"t","x":7.5,"y":0},{"r":6,"c":1,"s":"t","x":8.05,"y":30.7},{"r":6,"c":1,"s":"t","x":8.65,"y":10},{"r":6,"c":1,"s":"t","x":9.2,"y":0},
{"r":6,"c":2,"s":"t","x":1.0,"y":0},{"r":6,"c":2,"s":"t","x":1.38,"y":30.7},{"r":6,"c":2,"s":"t","x":1.76,"y":15},{"r":6,"c":2,"s":"t","x":2.5,"y":10},{"r":6,"c":2,"s":"t","x":3.0,"y":0},
{"r":6,"c":2,"s":"d","x":1.5,"y":0},{"r":6,"c":2,"s":"d","x":1.95,"y":28},{"r":6,"c":2,"s":"d","x":2.5,"y":25.8},{"r":6,"c":2,"s":"d","x":2.9,"y":15},{"r":6,"c":2,"s":"d","x":3.5,"y":0},
{"r":6,"c":2,"s":"k","x":4.2,"y":0},{"r":6,"c":2,"s":"k","x":4.6,"y":31.3},{"r":6,"c":2,"s":"k","x":5.3,"y":15},{"r":6,"c":2,"s":"k","x":6.0,"y":0},
{"r":6,"c":3,"s":"k","x":0.6,"y":0},{"r":6,"c":3,"s":"k","x":1.05,"y":34},{"r":6,"c":3,"s":"k","x":1.65,"y":28},{"r":6,"c":3,"s":"k","x":2.2,"y":18},{"r":6,"c":3,"s":"k","x":3.0,"y":0},
{"r":6,"c":4,"s":"k","x":4.0,"y":0},{"r":6,"c":4,"s":"k","x":4.37,"y":22.4},{"r":6,"c":4,"s":"k","x":4.94,"y":10},{"r":6,"c":4,"s":"k","x":5.5,"y":0},
{"r":6,"c":4,"s":"t","x":7.8,"y":0},{"r":6,"c":4,"s":"t","x":8.2,"y":23.6},{"r":6,"c":4,"s":"t","x":8.77,"y":10},{"r":6,"c":4,"s":"t","x":9.5,"y":0},
{"r":6,"c":4,"s":"d","x":8.7,"y":0},{"r":6,"c":4,"s":"d","x":9.16,"y":22.4},{"r":6,"c":4,"s":"d","x":9.5,"y":10},{"r":6,"c":4,"s":"d","x":10.0,"y":0}
]},
"data": {"name": "h"},
"columns": 4,
"spacing": 0,
"bounds": "flush",
"align": "each",
"concat": [
{"transform":[{"filter":"datum.r===1&&datum.c===1"}],"width":104.5,"height":8,"encoding":{"x":{"field":"x","type":"quantitative","title":null,"scale":{"domain":[0,12],"nice":false,"zero":false},"axis":{"values":[1,2,3,4,5,6,7,8,9,10,11]}},"y":{"field":"y","type":"quantitative","title":null,"scale":{"domain":[0,2.64],"nice":false,"zero":false},"axis":{"values":[0],"labels":true,"tickSize":11,"labelPadding":8}}},"layer":[
{"transform":[{"filter":"datum.s==='t'"}],"mark":{"type":"line","clip":true,"color":"#8c8c8c","strokeWidth":1}},
{"transform":[{"filter":"datum.s==='d'"}],"mark":{"type":"line","clip":true,"color":"#8c8c8c","strokeWidth":1,"strokeDash":[4,2]}},
{"transform":[{"filter":"datum.s==='k'"}],"mark":{"type":"line","clip":true,"color":"#4d4d4d","strokeWidth":3,"strokeJoin":"miter"}}]},
{"transform":[{"filter":"datum.r===1&&datum.c===2"}],"width":104.5,"height":8,"encoding":{"x":{"field":"x","type":"quantitative","title":null,"scale":{"domain":[0,12],"nice":false,"zero":false},"axis":{"values":[1,2,3,4,5,6,7,8,9,10,11]}},"y":{"field":"y","type":"quantitative","title":null,"scale":{"domain":[0,2.64],"nice":false,"zero":false},"axis":{"values":[0]}}},"layer":[
{"transform":[{"filter":"datum.s==='t'"}],"mark":{"type":"line","clip":true,"color":"#8c8c8c","strokeWidth":1}},
{"transform":[{"filter":"datum.s==='d'"}],"mark":{"type":"line","clip":true,"color":"#8c8c8c","strokeWidth":1,"strokeDash":[4,2]}},
{"transform":[{"filter":"datum.s==='k'"}],"mark":{"type":"line","clip":true,"color":"#4d4d4d","strokeWidth":3,"strokeJoin":"miter"}}]},
{"transform":[{"filter":"datum.r===1&&datum.c===3"}],"width":104.5,"height":8,"encoding":{"x":{"field":"x","type":"quantitative","title":null,"scale":{"domain":[0,12],"nice":false,"zero":false},"axis":{"values":[1,2,3,4,5,6,7,8,9,10,11]}},"y":{"field":"y","type":"quantitative","title":null,"scale":{"domain":[0,2.64],"nice":false,"zero":false},"axis":{"values":[0]}}},"layer":[
{"transform":[{"filter":"datum.s==='t'"}],"mark":{"type":"line","clip":true,"color":"#8c8c8c","strokeWidth":1}},
{"transform":[{"filter":"datum.s==='d'"}],"mark":{"type":"line","clip":true,"color":"#8c8c8c","strokeWidth":1,"strokeDash":[4,2]}},
{"transform":[{"filter":"datum.s==='k'"}],"mark":{"type":"line","clip":true,"color":"#4d4d4d","strokeWidth":3,"strokeJoin":"miter"}}]},
{"transform":[{"filter":"datum.r===1&&datum.c===4"}],"width":104.5,"height":8,"encoding":{"x":{"field":"x","type":"quantitative","title":null,"scale":{"domain":[0,12],"nice":false,"zero":false},"axis":{"values":[1,2,3,4,5,6,7,8,9,10,11]}},"y":{"field":"y","type":"quantitative","title":null,"scale":{"domain":[0,2.64],"nice":false,"zero":false},"axis":{"values":[0]}}},"layer":[
{"transform":[{"filter":"datum.s==='t'"}],"mark":{"type":"line","clip":true,"color":"#8c8c8c","strokeWidth":1}},
{"transform":[{"filter":"datum.s==='d'"}],"mark":{"type":"line","clip":true,"color":"#8c8c8c","strokeWidth":1,"strokeDash":[4,2]}},
{"transform":[{"filter":"datum.s==='k'"}],"mark":{"type":"line","clip":true,"color":"#4d4d4d","strokeWidth":3,"strokeJoin":"miter"}}]},
{"transform":[{"filter":"datum.r===2&&datum.c===1"}],"width":104.5,"height":106,"encoding":{"x":{"field":"x","type":"quantitative","title":null,"scale":{"domain":[0,12],"nice":false,"zero":false},"axis":{"values":[1,2,3,4,5,6,7,8,9,10,11]}},"y":{"field":"y","type":"quantitative","title":null,"scale":{"domain":[0,35],"nice":false,"zero":false},"axis":{"values":[0,2.5,5,7.5,10,12.5,15,17.5,20,22.5,25,27.5,30,32.5],"labels":true,"tickSize":11,"labelPadding":8,"labelExpr":"datum.value % 5 === 0 ? datum.label : ''"}}},"layer":[
{"transform":[{"filter":"datum.s==='t'"}],"mark":{"type":"line","clip":true,"color":"#8c8c8c","strokeWidth":1}},
{"transform":[{"filter":"datum.s==='d'"}],"mark":{"type":"line","clip":true,"color":"#8c8c8c","strokeWidth":1,"strokeDash":[4,2]}},
{"transform":[{"filter":"datum.s==='k'"}],"mark":{"type":"line","clip":true,"color":"#4d4d4d","strokeWidth":3,"strokeJoin":"miter"}}]},
{"transform":[{"filter":"datum.r===2&&datum.c===2"}],"width":104.5,"height":106,"encoding":{"x":{"field":"x","type":"quantitative","title":null,"scale":{"domain":[0,12],"nice":false,"zero":false},"axis":{"values":[1,2,3,4,5,6,7,8,9,10,11]}},"y":{"field":"y","type":"quantitative","title":null,"scale":{"domain":[0,35],"nice":false,"zero":false},"axis":{"values":[0,2.5,5,7.5,10,12.5,15,17.5,20,22.5,25,27.5,30,32.5]}}},"layer":[
{"transform":[{"filter":"datum.s==='t'"}],"mark":{"type":"line","clip":true,"color":"#8c8c8c","strokeWidth":1}},
{"transform":[{"filter":"datum.s==='d'"}],"mark":{"type":"line","clip":true,"color":"#8c8c8c","strokeWidth":1,"strokeDash":[4,2]}},
{"transform":[{"filter":"datum.s==='k'"}],"mark":{"type":"line","clip":true,"color":"#4d4d4d","strokeWidth":3,"strokeJoin":"miter"}}]},
{"transform":[{"filter":"datum.r===2&&datum.c===3"}],"width":104.5,"height":106,"encoding":{"x":{"field":"x","type":"quantitative","title":null,"scale":{"domain":[0,12],"nice":false,"zero":false},"axis":{"values":[1,2,3,4,5,6,7,8,9,10,11]}},"y":{"field":"y","type":"quantitative","title":null,"scale":{"domain":[0,35],"nice":false,"zero":false},"axis":{"values":[0,2.5,5,7.5,10,12.5,15,17.5,20,22.5,25,27.5,30,32.5]}}},"layer":[
{"transform":[{"filter":"datum.s==='t'"}],"mark":{"type":"line","clip":true,"color":"#8c8c8c","strokeWidth":1}},
{"transform":[{"filter":"datum.s==='d'"}],"mark":{"type":"line","clip":true,"color":"#8c8c8c","strokeWidth":1,"strokeDash":[4,2]}},
{"transform":[{"filter":"datum.s==='k'"}],"mark":{"type":"line","clip":true,"color":"#4d4d4d","strokeWidth":3,"strokeJoin":"miter"}}]},
{"transform":[{"filter":"datum.r===2&&datum.c===4"}],"title":{"text":"2","anchor":"end","frame":"group","font":"Liberation Sans","fontSize":12,"fontWeight":"normal","color":"#444444","dx":-5,"offset":-17},"width":104.5,"height":106,"encoding":{"x":{"field":"x","type":"quantitative","title":null,"scale":{"domain":[0,12],"nice":false,"zero":false},"axis":{"values":[1,2,3,4,5,6,7,8,9,10,11]}},"y":{"field":"y","type":"quantitative","title":null,"scale":{"domain":[0,35],"nice":false,"zero":false},"axis":{"values":[0,2.5,5,7.5,10,12.5,15,17.5,20,22.5,25,27.5,30,32.5]}}},"layer":[
{"transform":[{"filter":"datum.s==='t'"}],"mark":{"type":"line","clip":true,"color":"#8c8c8c","strokeWidth":1}},
{"transform":[{"filter":"datum.s==='d'"}],"mark":{"type":"line","clip":true,"color":"#8c8c8c","strokeWidth":1,"strokeDash":[4,2]}},
{"transform":[{"filter":"datum.s==='k'"}],"mark":{"type":"line","clip":true,"color":"#4d4d4d","strokeWidth":3,"strokeJoin":"miter"}}]},
{"transform":[{"filter":"datum.r===3&&datum.c===1"}],"width":104.5,"height":106,"encoding":{"x":{"field":"x","type":"quantitative","title":null,"scale":{"domain":[0,12],"nice":false,"zero":false},"axis":{"values":[1,2,3,4,5,6,7,8,9,10,11]}},"y":{"field":"y","type":"quantitative","title":null,"scale":{"domain":[0,35],"nice":false,"zero":false},"axis":{"values":[0,2.5,5,7.5,10,12.5,15,17.5,20,22.5,25,27.5,30,32.5],"labels":true,"tickSize":11,"labelPadding":8,"labelExpr":"datum.value % 5 === 0 ? datum.label : ''"}}},"layer":[
{"transform":[{"filter":"datum.s==='t'"}],"mark":{"type":"line","clip":true,"color":"#8c8c8c","strokeWidth":1}},
{"transform":[{"filter":"datum.s==='d'"}],"mark":{"type":"line","clip":true,"color":"#8c8c8c","strokeWidth":1,"strokeDash":[4,2]}},
{"transform":[{"filter":"datum.s==='k'"}],"mark":{"type":"line","clip":true,"color":"#4d4d4d","strokeWidth":3,"strokeJoin":"miter"}}]},
{"transform":[{"filter":"datum.r===3&&datum.c===2"}],"width":104.5,"height":106,"encoding":{"x":{"field":"x","type":"quantitative","title":null,"scale":{"domain":[0,12],"nice":false,"zero":false},"axis":{"values":[1,2,3,4,5,6,7,8,9,10,11]}},"y":{"field":"y","type":"quantitative","title":null,"scale":{"domain":[0,35],"nice":false,"zero":false},"axis":{"values":[0,2.5,5,7.5,10,12.5,15,17.5,20,22.5,25,27.5,30,32.5]}}},"layer":[
{"transform":[{"filter":"datum.s==='t'"}],"mark":{"type":"line","clip":true,"color":"#8c8c8c","strokeWidth":1}},
{"transform":[{"filter":"datum.s==='d'"}],"mark":{"type":"line","clip":true,"color":"#8c8c8c","strokeWidth":1,"strokeDash":[4,2]}},
{"transform":[{"filter":"datum.s==='k'"}],"mark":{"type":"line","clip":true,"color":"#4d4d4d","strokeWidth":3,"strokeJoin":"miter"}}]},
{"transform":[{"filter":"datum.r===3&&datum.c===3"}],"width":104.5,"height":106,"encoding":{"x":{"field":"x","type":"quantitative","title":null,"scale":{"domain":[0,12],"nice":false,"zero":false},"axis":{"values":[1,2,3,4,5,6,7,8,9,10,11]}},"y":{"field":"y","type":"quantitative","title":null,"scale":{"domain":[0,35],"nice":false,"zero":false},"axis":{"values":[0,2.5,5,7.5,10,12.5,15,17.5,20,22.5,25,27.5,30,32.5]}}},"layer":[
{"transform":[{"filter":"datum.s==='t'"}],"mark":{"type":"line","clip":true,"color":"#8c8c8c","strokeWidth":1}},
{"transform":[{"filter":"datum.s==='d'"}],"mark":{"type":"line","clip":true,"color":"#8c8c8c","strokeWidth":1,"strokeDash":[4,2]}},
{"transform":[{"filter":"datum.s==='k'"}],"mark":{"type":"line","clip":true,"color":"#4d4d4d","strokeWidth":3,"strokeJoin":"miter"}}]},
{"transform":[{"filter":"datum.r===3&&datum.c===4"}],"title":{"text":"3","anchor":"end","frame":"group","font":"Liberation Sans","fontSize":12,"fontWeight":"normal","color":"#444444","dx":-5,"offset":-16},"width":104.5,"height":106,"encoding":{"x":{"field":"x","type":"quantitative","title":null,"scale":{"domain":[0,12],"nice":false,"zero":false},"axis":{"values":[1,2,3,4,5,6,7,8,9,10,11]}},"y":{"field":"y","type":"quantitative","title":null,"scale":{"domain":[0,35],"nice":false,"zero":false},"axis":{"values":[0,2.5,5,7.5,10,12.5,15,17.5,20,22.5,25,27.5,30,32.5]}}},"layer":[
{"transform":[{"filter":"datum.s==='t'"}],"mark":{"type":"line","clip":true,"color":"#8c8c8c","strokeWidth":1}},
{"transform":[{"filter":"datum.s==='d'"}],"mark":{"type":"line","clip":true,"color":"#8c8c8c","strokeWidth":1,"strokeDash":[4,2]}},
{"transform":[{"filter":"datum.s==='k'"}],"mark":{"type":"line","clip":true,"color":"#4d4d4d","strokeWidth":3,"strokeJoin":"miter"}}]},
{"transform":[{"filter":"datum.r===4&&datum.c===1"}],"width":104.5,"height":106,"encoding":{"x":{"field":"x","type":"quantitative","title":null,"scale":{"domain":[0,12],"nice":false,"zero":false},"axis":{"values":[1,2,3,4,5,6,7,8,9,10,11]}},"y":{"field":"y","type":"quantitative","title":null,"scale":{"domain":[0,35],"nice":false,"zero":false},"axis":{"values":[0,2.5,5,7.5,10,12.5,15,17.5,20,22.5,25,27.5,30,32.5],"labels":true,"tickSize":11,"labelPadding":8,"labelExpr":"datum.value % 5 === 0 ? datum.label : ''"}}},"layer":[
{"transform":[{"filter":"datum.s==='t'"}],"mark":{"type":"line","clip":true,"color":"#8c8c8c","strokeWidth":1}},
{"transform":[{"filter":"datum.s==='d'"}],"mark":{"type":"line","clip":true,"color":"#8c8c8c","strokeWidth":1,"strokeDash":[4,2]}},
{"transform":[{"filter":"datum.s==='k'"}],"mark":{"type":"line","clip":true,"color":"#4d4d4d","strokeWidth":3,"strokeJoin":"miter"}}]},
{"transform":[{"filter":"datum.r===4&&datum.c===2"}],"width":104.5,"height":106,"encoding":{"x":{"field":"x","type":"quantitative","title":null,"scale":{"domain":[0,12],"nice":false,"zero":false},"axis":{"values":[1,2,3,4,5,6,7,8,9,10,11]}},"y":{"field":"y","type":"quantitative","title":null,"scale":{"domain":[0,35],"nice":false,"zero":false},"axis":{"values":[0,2.5,5,7.5,10,12.5,15,17.5,20,22.5,25,27.5,30,32.5]}}},"layer":[
{"transform":[{"filter":"datum.s==='t'"}],"mark":{"type":"line","clip":true,"color":"#8c8c8c","strokeWidth":1}},
{"transform":[{"filter":"datum.s==='d'"}],"mark":{"type":"line","clip":true,"color":"#8c8c8c","strokeWidth":1,"strokeDash":[4,2]}},
{"transform":[{"filter":"datum.s==='k'"}],"mark":{"type":"line","clip":true,"color":"#4d4d4d","strokeWidth":3,"strokeJoin":"miter"}}]},
{"transform":[{"filter":"datum.r===4&&datum.c===3"}],"width":104.5,"height":106,"encoding":{"x":{"field":"x","type":"quantitative","title":null,"scale":{"domain":[0,12],"nice":false,"zero":false},"axis":{"values":[1,2,3,4,5,6,7,8,9,10,11]}},"y":{"field":"y","type":"quantitative","title":null,"scale":{"domain":[0,35],"nice":false,"zero":false},"axis":{"values":[0,2.5,5,7.5,10,12.5,15,17.5,20,22.5,25,27.5,30,32.5]}}},"layer":[
{"transform":[{"filter":"datum.s==='t'"}],"mark":{"type":"line","clip":true,"color":"#8c8c8c","strokeWidth":1}},
{"transform":[{"filter":"datum.s==='d'"}],"mark":{"type":"line","clip":true,"color":"#8c8c8c","strokeWidth":1,"strokeDash":[4,2]}},
{"transform":[{"filter":"datum.s==='k'"}],"mark":{"type":"line","clip":true,"color":"#4d4d4d","strokeWidth":3,"strokeJoin":"miter"}}]},
{"transform":[{"filter":"datum.r===4&&datum.c===4"}],"title":{"text":"4","anchor":"end","frame":"group","font":"Liberation Sans","fontSize":12,"fontWeight":"normal","color":"#444444","dx":-5,"offset":-17},"width":104.5,"height":106,"encoding":{"x":{"field":"x","type":"quantitative","title":null,"scale":{"domain":[0,12],"nice":false,"zero":false},"axis":{"values":[1,2,3,4,5,6,7,8,9,10,11]}},"y":{"field":"y","type":"quantitative","title":null,"scale":{"domain":[0,35],"nice":false,"zero":false},"axis":{"values":[0,2.5,5,7.5,10,12.5,15,17.5,20,22.5,25,27.5,30,32.5]}}},"layer":[
{"transform":[{"filter":"datum.s==='t'"}],"mark":{"type":"line","clip":true,"color":"#8c8c8c","strokeWidth":1}},
{"transform":[{"filter":"datum.s==='d'"}],"mark":{"type":"line","clip":true,"color":"#8c8c8c","strokeWidth":1,"strokeDash":[4,2]}},
{"transform":[{"filter":"datum.s==='k'"}],"mark":{"type":"line","clip":true,"color":"#4d4d4d","strokeWidth":3,"strokeJoin":"miter"}}]},
{"transform":[{"filter":"datum.r===5&&datum.c===1"}],"width":104.5,"height":106,"encoding":{"x":{"field":"x","type":"quantitative","title":null,"scale":{"domain":[0,12],"nice":false,"zero":false},"axis":{"values":[1,2,3,4,5,6,7,8,9,10,11]}},"y":{"field":"y","type":"quantitative","title":null,"scale":{"domain":[0,35],"nice":false,"zero":false},"axis":{"values":[0,2.5,5,7.5,10,12.5,15,17.5,20,22.5,25,27.5,30,32.5],"labels":true,"tickSize":11,"labelPadding":8,"labelExpr":"datum.value % 5 === 0 ? datum.label : ''"}}},"layer":[
{"transform":[{"filter":"datum.s==='t'"}],"mark":{"type":"line","clip":true,"color":"#8c8c8c","strokeWidth":1}},
{"transform":[{"filter":"datum.s==='d'"}],"mark":{"type":"line","clip":true,"color":"#8c8c8c","strokeWidth":1,"strokeDash":[4,2]}},
{"transform":[{"filter":"datum.s==='k'"}],"mark":{"type":"line","clip":true,"color":"#4d4d4d","strokeWidth":3,"strokeJoin":"miter"}}]},
{"transform":[{"filter":"datum.r===5&&datum.c===2"}],"width":104.5,"height":106,"encoding":{"x":{"field":"x","type":"quantitative","title":null,"scale":{"domain":[0,12],"nice":false,"zero":false},"axis":{"values":[1,2,3,4,5,6,7,8,9,10,11]}},"y":{"field":"y","type":"quantitative","title":null,"scale":{"domain":[0,35],"nice":false,"zero":false},"axis":{"values":[0,2.5,5,7.5,10,12.5,15,17.5,20,22.5,25,27.5,30,32.5]}}},"layer":[
{"transform":[{"filter":"datum.s==='t'"}],"mark":{"type":"line","clip":true,"color":"#8c8c8c","strokeWidth":1}},
{"transform":[{"filter":"datum.s==='d'"}],"mark":{"type":"line","clip":true,"color":"#8c8c8c","strokeWidth":1,"strokeDash":[4,2]}},
{"transform":[{"filter":"datum.s==='k'"}],"mark":{"type":"line","clip":true,"color":"#4d4d4d","strokeWidth":3,"strokeJoin":"miter"}}]},
{"transform":[{"filter":"datum.r===5&&datum.c===3"}],"width":104.5,"height":106,"encoding":{"x":{"field":"x","type":"quantitative","title":null,"scale":{"domain":[0,12],"nice":false,"zero":false},"axis":{"values":[1,2,3,4,5,6,7,8,9,10,11]}},"y":{"field":"y","type":"quantitative","title":null,"scale":{"domain":[0,35],"nice":false,"zero":false},"axis":{"values":[0,2.5,5,7.5,10,12.5,15,17.5,20,22.5,25,27.5,30,32.5]}}},"layer":[
{"transform":[{"filter":"datum.s==='t'"}],"mark":{"type":"line","clip":true,"color":"#8c8c8c","strokeWidth":1}},
{"transform":[{"filter":"datum.s==='d'"}],"mark":{"type":"line","clip":true,"color":"#8c8c8c","strokeWidth":1,"strokeDash":[4,2]}},
{"transform":[{"filter":"datum.s==='k'"}],"mark":{"type":"line","clip":true,"color":"#4d4d4d","strokeWidth":3,"strokeJoin":"miter"}}]},
{"transform":[{"filter":"datum.r===5&&datum.c===4"}],"title":{"text":"5","anchor":"end","frame":"group","font":"Liberation Sans","fontSize":12,"fontWeight":"normal","color":"#444444","dx":-5,"offset":-16},"width":104.5,"height":106,"encoding":{"x":{"field":"x","type":"quantitative","title":null,"scale":{"domain":[0,12],"nice":false,"zero":false},"axis":{"values":[1,2,3,4,5,6,7,8,9,10,11]}},"y":{"field":"y","type":"quantitative","title":null,"scale":{"domain":[0,35],"nice":false,"zero":false},"axis":{"values":[0,2.5,5,7.5,10,12.5,15,17.5,20,22.5,25,27.5,30,32.5]}}},"layer":[
{"transform":[{"filter":"datum.s==='t'"}],"mark":{"type":"line","clip":true,"color":"#8c8c8c","strokeWidth":1}},
{"transform":[{"filter":"datum.s==='d'"}],"mark":{"type":"line","clip":true,"color":"#8c8c8c","strokeWidth":1,"strokeDash":[4,2]}},
{"transform":[{"filter":"datum.s==='k'"}],"mark":{"type":"line","clip":true,"color":"#4d4d4d","strokeWidth":3,"strokeJoin":"miter"}}]},
{"transform":[{"filter":"datum.r===6&&datum.c===1"}],"width":104.5,"height":42,"encoding":{"x":{"field":"x","type":"quantitative","title":null,"scale":{"domain":[0,12],"nice":false,"zero":false},"axis":{"values":[1,2,3,4,5,6,7,8,9,10,11]}},"y":{"field":"y","type":"quantitative","title":null,"scale":{"domain":[21.14,35],"nice":false,"zero":false},"axis":{"values":[22.5,25,27.5,30,32.5],"labels":true,"tickSize":11,"labelPadding":8,"labelExpr":"datum.value % 5 === 0 ? datum.label : ''"}}},"layer":[
{"transform":[{"filter":"datum.s==='t'"}],"mark":{"type":"line","clip":true,"color":"#8c8c8c","strokeWidth":1}},
{"transform":[{"filter":"datum.s==='d'"}],"mark":{"type":"line","clip":true,"color":"#8c8c8c","strokeWidth":1,"strokeDash":[4,2]}},
{"transform":[{"filter":"datum.s==='k'"}],"mark":{"type":"line","clip":true,"color":"#4d4d4d","strokeWidth":3,"strokeJoin":"miter"}}]},
{"transform":[{"filter":"datum.r===6&&datum.c===2"}],"width":104.5,"height":42,"encoding":{"x":{"field":"x","type":"quantitative","title":null,"scale":{"domain":[0,12],"nice":false,"zero":false},"axis":{"values":[1,2,3,4,5,6,7,8,9,10,11]}},"y":{"field":"y","type":"quantitative","title":null,"scale":{"domain":[21.14,35],"nice":false,"zero":false},"axis":{"values":[22.5,25,27.5,30,32.5]}}},"layer":[
{"transform":[{"filter":"datum.s==='t'"}],"mark":{"type":"line","clip":true,"color":"#8c8c8c","strokeWidth":1}},
{"transform":[{"filter":"datum.s==='d'"}],"mark":{"type":"line","clip":true,"color":"#8c8c8c","strokeWidth":1,"strokeDash":[4,2]}},
{"transform":[{"filter":"datum.s==='k'"}],"mark":{"type":"line","clip":true,"color":"#4d4d4d","strokeWidth":3,"strokeJoin":"miter"}}]},
{"transform":[{"filter":"datum.r===6&&datum.c===3"}],"width":104.5,"height":42,"encoding":{"x":{"field":"x","type":"quantitative","title":null,"scale":{"domain":[0,12],"nice":false,"zero":false},"axis":{"values":[1,2,3,4,5,6,7,8,9,10,11]}},"y":{"field":"y","type":"quantitative","title":null,"scale":{"domain":[21.14,35],"nice":false,"zero":false},"axis":{"values":[22.5,25,27.5,30,32.5]}}},"layer":[
{"transform":[{"filter":"datum.s==='t'"}],"mark":{"type":"line","clip":true,"color":"#8c8c8c","strokeWidth":1}},
{"transform":[{"filter":"datum.s==='d'"}],"mark":{"type":"line","clip":true,"color":"#8c8c8c","strokeWidth":1,"strokeDash":[4,2]}},
{"transform":[{"filter":"datum.s==='k'"}],"mark":{"type":"line","clip":true,"color":"#4d4d4d","strokeWidth":3,"strokeJoin":"miter"}}]},
{"transform":[{"filter":"datum.r===6&&datum.c===4"}],"title":{"text":"6","anchor":"end","frame":"group","font":"Liberation Sans","fontSize":12,"fontWeight":"normal","color":"#444444","dx":-5,"offset":-14},"width":104.5,"height":42,"encoding":{"x":{"field":"x","type":"quantitative","title":null,"scale":{"domain":[0,12],"nice":false,"zero":false},"axis":{"values":[1,2,3,4,5,6,7,8,9,10,11]}},"y":{"field":"y","type":"quantitative","title":null,"scale":{"domain":[21.14,35],"nice":false,"zero":false},"axis":{"values":[22.5,25,27.5,30,32.5]}}},"layer":[
{"transform":[{"filter":"datum.s==='t'"}],"mark":{"type":"line","clip":true,"color":"#8c8c8c","strokeWidth":1}},
{"transform":[{"filter":"datum.s==='d'"}],"mark":{"type":"line","clip":true,"color":"#8c8c8c","strokeWidth":1,"strokeDash":[4,2]}},
{"transform":[{"filter":"datum.s==='k'"}],"mark":{"type":"line","clip":true,"color":"#4d4d4d","strokeWidth":3,"strokeJoin":"miter"}}]}
]
}
